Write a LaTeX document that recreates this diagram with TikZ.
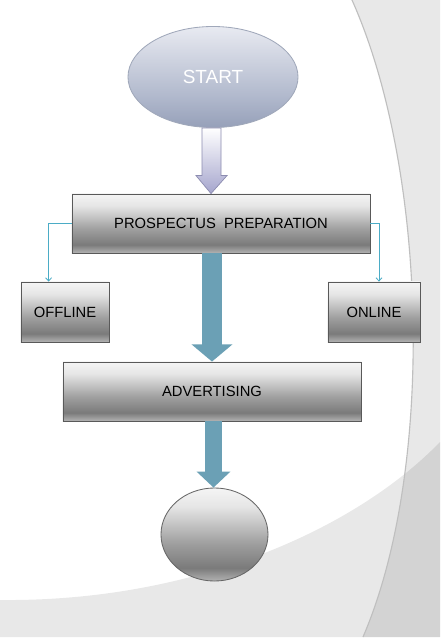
\documentclass[tikz,border=0pt]{standalone}
\usepackage{fontspec}
\setmainfont{Liberation Sans}
\usetikzlibrary{calc,shapes.geometric,arrows.meta}

\definecolor{flowblue}{RGB}{107,160,181}
\definecolor{linkblue}{RGB}{75,172,198}
\definecolor{liftedge}{RGB}{140,140,176}
\definecolor{liftlow}{RGB}{165,165,205}
\definecolor{startedge}{RGB}{160,168,186}
\definecolor{startlow}{RGB}{150,160,185}
\definecolor{startmid}{RGB}{176,184,204}
\definecolor{starttop}{RGB}{232,234,241}

\pgfdeclareverticalshading{boxshade}{100bp}{color(0bp)=(black!30); color(25bp)=(black!30);
  color(32bp)=(black!52); color(45bp)=(black!38); color(65bp)=(black!10);
  color(75bp)=(black!4); color(100bp)=(black!4)}
\pgfdeclareverticalshading{startshade}{100bp}{color(0bp)=(startlow); color(25bp)=(startlow);
  color(40bp)=(startmid); color(75bp)=(starttop); color(100bp)=(starttop)}
\pgfdeclareverticalshading{liftshade}{100bp}{color(0bp)=(liftlow); color(25bp)=(liftlow);
  color(75bp)=(white); color(100bp)=(white)}

\begin{document}
\begin{tikzpicture}[x=0.025cm,y=-0.025cm,
    stepbox/.style={draw=black!65,line width=0.6pt,shading=boxshade,inner sep=0pt,
      minimum height=1.475cm,font=\fontsize{10.5}{12}\selectfont},
    startnode/.style={ellipse,draw=startedge,line width=0.6pt,shading=startshade,inner sep=0pt,
      minimum width=4.25cm,minimum height=2.525cm,text=white,font=\fontsize{13.5}{16}\selectfont},
    endnode/.style={ellipse,draw=black!60,line width=0.6pt,shading=boxshade,inner sep=0pt,
      minimum width=2.675cm,minimum height=2.325cm},
    liftarrow/.style={draw=liftedge,line width=0.5pt,shading=liftshade},
    flowarrow/.style={draw=flowblue,line width=0.5cm,-{Triangle[width=1cm,length=0.43cm]}},
    linkline/.style={draw=linkblue,line width=0.6pt,-{Straight Barb[length=0.8mm,width=1.5mm]}}]
    \useasboundingbox (0,0) rectangle (443,640);
    \fill[white] (0,0) rectangle (443,640);

    % background
    \fill[black,fill opacity=.09] (352,0) .. controls (428,170) and (435,470) .. (363,637)
      -- (440,637) -- (440,0) -- cycle;
    \fill[black,fill opacity=.09] (0,600) .. controls (200,602) and (360,525) .. (440,442)
      -- (440,637) -- (0,637) -- cycle;
    \draw[black!25,line width=0.8pt] (352,0) .. controls (428,170) and (435,470) .. (363,637);

    \node[startnode] (S0) at (213,77) {START};
    \node[stepbox,minimum width=7.45cm] (P1) at (221,223.5) {PROSPECTUS\ \ PREPARATION};
    \node[stepbox,minimum width=2.2cm,minimum height=1.5cm] (OF2) at (65,312) {OFFLINE};
    \node[stepbox,minimum width=2.3cm,minimum height=1.5cm] (ON2) at (374,312) {ONLINE};
    \node[stepbox,minimum width=7.45cm] (A3) at (212,391.5) {ADVERTISING};
    \node[endnode] (E4) at (214.5,534.5) {};

    \shade[liftarrow] ($(S0.south)+(-11,0)$) -- ($(S0.south |- P1.north)+(-11,-18)$)
      -- ($(S0.south |- P1.north)+(-17,-18)$) -- ($(S0.south |- P1.north)+(-2,0)$)
      -- ($(S0.south |- P1.north)+(14,-18)$) -- ($(S0.south |- P1.north)+(8,-18)$)
      -- ($(S0.south)+(8,0)$) -- cycle;
    \draw[flowarrow] (A3.north |- P1.south) -- (A3.north);
    \draw[flowarrow,line width=0.425cm,-{Triangle[width=0.825cm,length=0.4cm]}]
      ($(A3.south)+(1.5,0)$) -- ($(A3.south |- E4.north)+(1.5,0)$);
    \draw[linkline] (P1.west) -| ($(OF2.north west)+(28,0)$);
    \draw[linkline] (P1.east) -| ($(ON2.north)+(5,0)$);
\end{tikzpicture}
\end{document}
